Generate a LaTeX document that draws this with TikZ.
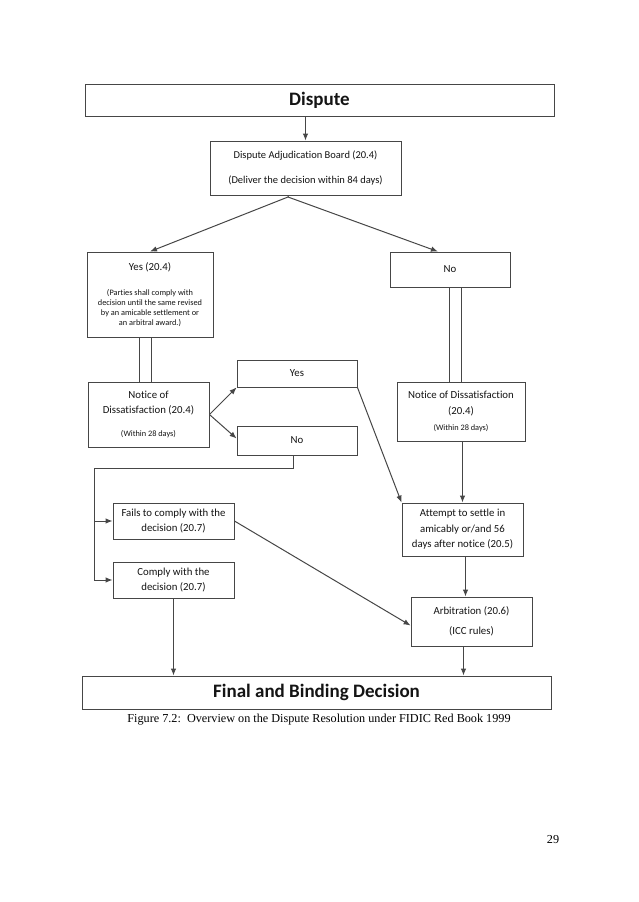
\documentclass[tikz,border=0pt]{standalone}
\usepackage{fontspec}
\setmainfont{Liberation Serif}
\newfontfamily\boxfont[Ligatures=NoCommon,Contextuals=NoAlternate]{Carlito}
\usepackage{tikz}
\usetikzlibrary{arrows.meta,positioning,calc}
\definecolor{linegray}{RGB}{70,70,70}
\definecolor{textgray}{RGB}{20,20,20}
\newcommand{\smtxt}{\fontsize{8.3}{10}\selectfont}
\newcommand{\mdtxt}{\fontsize{10.8}{15}\selectfont}

\begin{document}
\begin{tikzpicture}[x=1pt,y=-1pt,
  box/.style={draw=linegray,line width=0.9pt,fill=white,align=center,inner sep=0pt,text=textgray},
  conn/.style={draw=linegray,line width=1pt},
  arr/.style={conn,-{Latex[length=7pt,width=5.5pt]}},
  big/.style={font=\boxfont\bfseries\fontsize{19}{22}\selectfont},
  txt/.style={font=\boxfont\mdtxt}]
\useasboundingbox (0,0) rectangle (638,902);
% top and bottom bars
\node[box,big,minimum width=469pt,minimum height=32pt] (dsp) at (319.5,100) {Dispute};
\node[box,big,minimum width=469pt,minimum height=33pt] (fin) at (316.5,692.5) {Final and Binding Decision};
% adjudication board
\node[box,font=\boxfont\fontsize{10.5}{25}\selectfont,minimum width=191pt,minimum height=54pt] (dab) at (305.5,168) {Dispute Adjudication Board (20.4)\\(Deliver the decision within 84 days)};
\coordinate (tip) at (288,197);
% left branch
\node[box,font=\boxfont\smtxt,minimum width=126pt,minimum height=85pt] (yes) at (150,294.5) {\mdtxt Yes (20.4)\\[15pt](Parties shall comply with\\decision until the same revised\\by an amicable settlement or\\an arbitral award.)};
\node[box,txt,minimum width=121pt,minimum height=65pt] (nl) at (148.5,414.5) {Notice of\\Dissatisfaction (20.4)\\[8pt]\smtxt (Within 28 days)};
\node[box,txt,minimum width=120pt,minimum height=27pt] (ys) at (297,373.5) {Yes};
\node[box,txt,minimum width=120pt,minimum height=29pt] (ns) at (297,440.5) {No};
\node[box,txt,minimum width=121pt,minimum height=36pt] (fl) at (173.5,521) {Fails to comply with the\\decision (20.7)};
\node[box,txt,minimum width=121pt,minimum height=36pt] (cw) at (173.5,580) {Comply with the\\decision (20.7)};
\coordinate (bend) at (94,468);
% right branch
\node[box,txt,minimum width=120pt,minimum height=35pt] (nor) at (450,269.5) {No};
\node[box,font=\boxfont\fontsize{10.8}{16}\selectfont,minimum width=128pt,minimum height=59pt] (nr) at (461,411.5) {Notice of Dissatisfaction\\(20.4)\\\smtxt (Within 28 days)};
\node[box,font=\boxfont\fontsize{10.8}{15.5}\selectfont,minimum width=121pt,minimum height=53pt] (at) at (462.5,529.5) {Attempt to settle in\\amicably or/and 56\\days after notice (20.5)};
\node[box,font=\boxfont\fontsize{10.8}{20}\selectfont,minimum width=121pt,minimum height=49pt] (arb) at (471.5,621.5) {Arbitration (20.6)\\(ICC rules)};
\coordinate (atb) at ($(at.south)+(3,0)$);
\coordinate (arbb) at ($(arb.south)+(-8,0)$);
% connectors
\draw[arr] (dab.north |- dsp.south) -- (dab.north);
\draw[conn] (dab.south) ++(-17,0) -- (tip);
\draw[arr] (tip) -- (yes.north);
\draw[arr] (tip) -- ($(nor.north west)!0.4!(nor.north east)$);
\draw[conn] ($(yes.south)+(-11,0)$) -- ++(0,45) ($(yes.south)+(1,0)$) -- ++(0,45);
\draw[conn] ($(nor.south)+(-1,0)$) -- ++(0,95) ($(nor.south)+(11,0)$) -- ++(0,95);
\draw[arr] (nl.east) -- (ys.south west);
\draw[arr] (nl.east) -- ($(ns.west)+(0,-2)$);
\draw[conn] ($(ns.south)+(-4,0)$) |- (bend) -- (bend |- cw.west);
\draw[arr] (bend |- fl.west) -- (fl.west);
\draw[arr] (bend |- cw.west) -- (cw.west);
\draw[arr] (cw.south) -- (cw.south |- fin.north);
\draw[arr] (ys.south east) -- (at.north west);
\draw[arr] (at.north |- nr.south) -- (at.north);
\draw[arr] (fl.east) -- ($(arb.west)+(0,4)$);
\draw[arr] (atb) -- (atb |- arb.north);
\draw[arr] (arbb) -- (arbb |- fin.north);
% caption and page number
\node[font=\fontsize{12.2}{14}\selectfont] (cap) at (319,720) {Figure 7.2:\ \ Overview on the Dispute Resolution under FIDIC Red Book 1999};
\node[font=\fontsize{12.2}{14}\selectfont] (pg) at (553,840) {29};
\end{tikzpicture}
\end{document}
